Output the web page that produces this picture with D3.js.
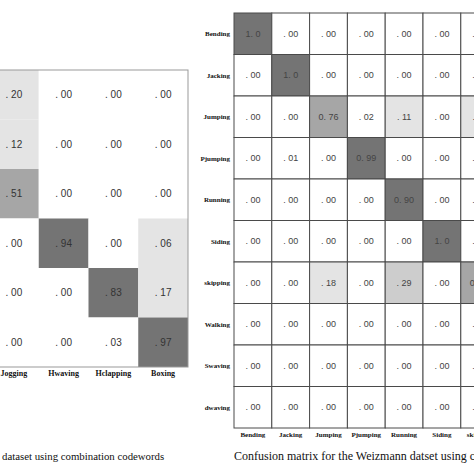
<!DOCTYPE html>
<html>
<head>
<meta charset="utf-8">
<script src="https://cdn.jsdelivr.net/npm/d3@7"></script>
<style>
  body { margin: 0; background: #fff; }
  svg { display: block; }
</style>
</head>
<body>
<svg width="474" height="474"></svg>
<script>
// left matrix (KTH, only the right part of it is in view)
var kthRows = ["Walking", "Running", "Jogging", "Hwaving", "Hclapping", "Boxing"];
var kthCols = ["Jogging", "Hwaving", "Hclapping", "Boxing"];
var kthValues = [
    [0.20, 0.00, 0.00, 0.00],
    [0.12, 0.00, 0.00, 0.00],
    [0.51, 0.00, 0.00, 0.00],
    [0.00, 0.94, 0.00, 0.06],
    [0.00, 0.00, 0.83, 0.17],
    [0.00, 0.00, 0.03, 0.97]
];

// right matrix (Weizmann, cut off on the right)
var wzRows = ["Bending", "Jacking", "Jumping", "Pjumping", "Running", "Siding", "skipping", "Walking", "Swaving", "dwaving"];
var wzCols = ["Bending", "Jacking", "Jumping", "Pjumping", "Running", "Siding", "skipping"];
var wzValues = [
    [1.00, 0.00, 0.00, 0.00, 0.00, 0.00, 0.00],
    [0.00, 1.00, 0.00, 0.00, 0.00, 0.00, 0.00],
    [0.00, 0.00, 0.76, 0.02, 0.11, 0.00, 0.11],
    [0.00, 0.01, 0.00, 0.99, 0.00, 0.00, 0.00],
    [0.00, 0.00, 0.00, 0.00, 0.90, 0.00, 0.00],
    [0.00, 0.00, 0.00, 0.00, 0.00, 1.00, 0.00],
    [0.00, 0.00, 0.18, 0.00, 0.29, 0.00, 0.53],
    [0.00, 0.00, 0.00, 0.00, 0.00, 0.00, 0.00],
    [0.00, 0.00, 0.00, 0.00, 0.00, 0.00, 0.00],
    [0.00, 0.00, 0.00, 0.00, 0.00, 0.00, 0.00]
];

var svg = d3.select("svg");

// grey levels are stepped, not continuous
var shade = d3.scaleThreshold()
    .domain([0.05, 0.25, 0.45, 0.8])
    .range(["#ffffff", "#e4e4e4", "#cdcdcd", "#a6a6a6", "#747474"]);

function fmt(v, diag) {
    if (v >= 1) return "1. 0";
    var s = d3.format(".2f")(v).slice(1);   // ".76"
    return (diag ? "0" : "") + ". " + s.slice(1);
}

function cells(rows, cols, values, diagName) {
    var out = [];
    rows.forEach(function(r, i) {
        cols.forEach(function(c, j) {
            out.push({row: r, col: c, v: values[i][j], diag: diagName && r == c});
        });
    });
    return out;
}

// ---- left matrix
var x1 = d3.scaleBand().domain(kthCols).range([-11, 188]);
var y1 = d3.scaleBand().domain(kthRows).range([70, 367]);

var g1 = svg.append("g");
var c1 = g1.selectAll("g.cell")
    .data(cells(kthRows, kthCols, kthValues, false))
    .enter().append("g");
c1.append("rect")
    .attr("x", function(d) { return x1(d.col); })
    .attr("y", function(d) { return y1(d.row); })
    .attr("width", x1.bandwidth())
    .attr("height", y1.bandwidth())
    .attr("fill", function(d) { return shade(d.v); });
c1.append("text")
    .attr("x", function(d) { return x1(d.col) + x1.bandwidth() / 2; })
    .attr("y", function(d) { return y1(d.row) + y1.bandwidth() / 2; })
    .attr("dy", "0.35em")
    .attr("text-anchor", "middle")
    .style("font", "10px 'Liberation Sans', sans-serif")
    .style("fill", "#333")
    .text(function(d) { return fmt(d.v, false); });

g1.append("rect")
    .attr("x", x1.range()[0]).attr("y", y1.range()[0])
    .attr("width", x1.range()[1] - x1.range()[0])
    .attr("height", y1.range()[1] - y1.range()[0])
    .attr("fill", "none").attr("stroke", "#999");

g1.selectAll("text.col")
    .data(kthCols)
    .enter().append("text")
    .attr("x", function(d) { return x1(d) + x1.bandwidth() / 2; })
    .attr("y", 376)
    .attr("text-anchor", "middle")
    .style("font", "bold 8px 'Liberation Serif', serif")
    .style("fill", "#111")
    .text(function(d) { return d; });

svg.append("text")
    .attr("x", 2).attr("y", 460)
    .style("font", "10.8px 'Liberation Serif', serif")
    .style("fill", "#111")
    .text("dataset using combination codewords");

// ---- right matrix
var x2 = d3.scaleBand().domain(wzCols).range([234, 234 + 37.8 * wzCols.length]);
var y2 = d3.scaleBand().domain(wzRows).range([13, 428]);

var g2 = svg.append("g");
var c2 = g2.selectAll("g.cell")
    .data(cells(wzRows, wzCols, wzValues, true))
    .enter().append("g");
c2.append("rect")
    .attr("x", function(d) { return x2(d.col); })
    .attr("y", function(d) { return y2(d.row); })
    .attr("width", x2.bandwidth())
    .attr("height", y2.bandwidth())
    .attr("fill", function(d) { return shade(d.v); })
    .attr("stroke", "#4a4a4a")
    .attr("stroke-width", 1);
c2.append("text")
    .attr("x", function(d) { return x2(d.col) + x2.bandwidth() / 2; })
    .attr("y", function(d) { return y2(d.row) + y2.bandwidth() / 2; })
    .attr("dy", "0.35em")
    .attr("text-anchor", "middle")
    .style("font", "9px 'Liberation Sans', sans-serif")
    .style("fill", "#444")
    .text(function(d) { return fmt(d.v, d.diag); });

g2.selectAll("text.row")
    .data(wzRows)
    .enter().append("text")
    .attr("x", 230)
    .attr("y", function(d) { return y2(d) + y2.bandwidth() / 2; })
    .attr("dy", "0.35em")
    .attr("text-anchor", "end")
    .style("font", "bold 7px 'Liberation Serif', serif")
    .style("fill", "#111")
    .text(function(d) { return d; });

g2.selectAll("text.col")
    .data(wzCols)
    .enter().append("text")
    .attr("x", function(d) { return x2(d) + x2.bandwidth() / 2; })
    .attr("y", 437)
    .attr("text-anchor", "middle")
    .style("font", "bold 7px 'Liberation Serif', serif")
    .style("fill", "#111")
    .text(function(d) { return d; });

svg.append("text")
    .attr("x", 234).attr("y", 460)
    .style("font", "12px 'Liberation Serif', serif")
    .style("fill", "#111")
    .text("Confusion matrix for the Weizmann datset using combination codewords");
</script>
</body>
</html>
